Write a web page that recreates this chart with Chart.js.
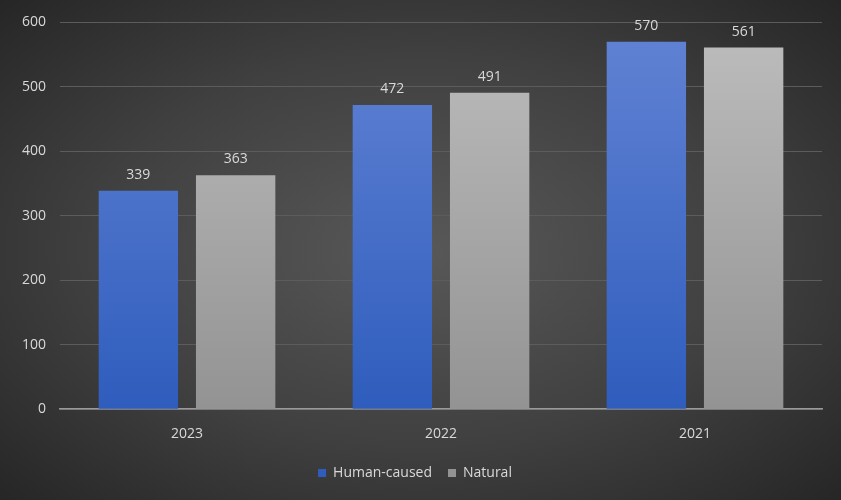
<!DOCTYPE html>
<html><head><meta charset="utf-8">
<script src="https://cdn.jsdelivr.net/npm/chart.js@4/dist/chart.umd.min.js"></script>
<style>
html,body{margin:0;padding:0;}
body{width:841px;height:500px;background:radial-gradient(ellipse at center,#585858 0%,#404040 55%,#262626 100%);}
#w{position:absolute;left:0;top:0;width:841px;height:500px;}
</style></head><body>
<div id="w"><canvas id="c" width="841" height="500"></canvas></div>
<script>
const categories = ["2023","2022","2021"];
const humanCaused = [339,472,570];
const natural = [363,491,561];
const yTicks = [0,100,200,300,400,500,600];

const ctx = document.getElementById('c').getContext('2d');
function grad(top,bottom){
  return function(context){
    const ch = context.chart, a = ch.chartArea;
    if(!a) return top;
    const g = ch.ctx.createLinearGradient(0,a.top,0,a.bottom);
    g.addColorStop(0,top); g.addColorStop(1,bottom); return g;
  };
}
const labelPlugin = {
  id:'lbl',
  afterDatasetsDraw(chart){
    const c = chart.ctx;
    c.save();
    c.font = '14px "Open Sans", Calibri, sans-serif';
    c.fillStyle = '#d9d9d9';
    c.textAlign = 'center';
    c.textBaseline = 'bottom';
    chart.data.datasets.forEach((ds,i)=>{
      chart.getDatasetMeta(i).data.forEach((bar,j)=>{
        c.fillText(ds.data[j], bar.x, bar.y - 9);
      });
    });
    c.restore();
  }
};
new Chart(ctx,{
  type:'bar',
  data:{labels:categories,datasets:[
    {label:'Human-caused',data:humanCaused,backgroundColor:grad('#6283d4','#2f5dbd'),borderWidth:0,categoryPercentage:0.766,barPercentage:0.816},
    {label:'Natural',data:natural,backgroundColor:grad('#bdbdbd','#939393'),borderWidth:0,categoryPercentage:0.766,barPercentage:0.816}
  ]},
  options:{
    responsive:false,animation:false,
    layout:{padding:{left:8,right:19,top:12,bottom:10}},
    plugins:{
      legend:{position:'bottom',labels:{color:'#d9d9d9',boxWidth:8,boxHeight:8,padding:16,font:{size:14,family:'"Open Sans", sans-serif'}}},
      tooltip:{enabled:false}
    },
    scales:{
      x:{grid:{display:false},border:{color:'#9a9a9a',width:1.5},
         ticks:{color:'#d9d9d9',padding:8,font:{size:14,family:'"Open Sans", sans-serif'}}},
      y:{min:0,max:600,afterBuildTicks(ax){ax.ticks=yTicks.map(v=>({value:v}));},
         grid:{color:'#5c5c5c',drawTicks:false},border:{display:false},
         ticks:{color:'#d9d9d9',padding:14,font:{size:14,family:'"Open Sans", sans-serif'}}}
    }
  },
  plugins:[labelPlugin]
});
</script></body></html>
